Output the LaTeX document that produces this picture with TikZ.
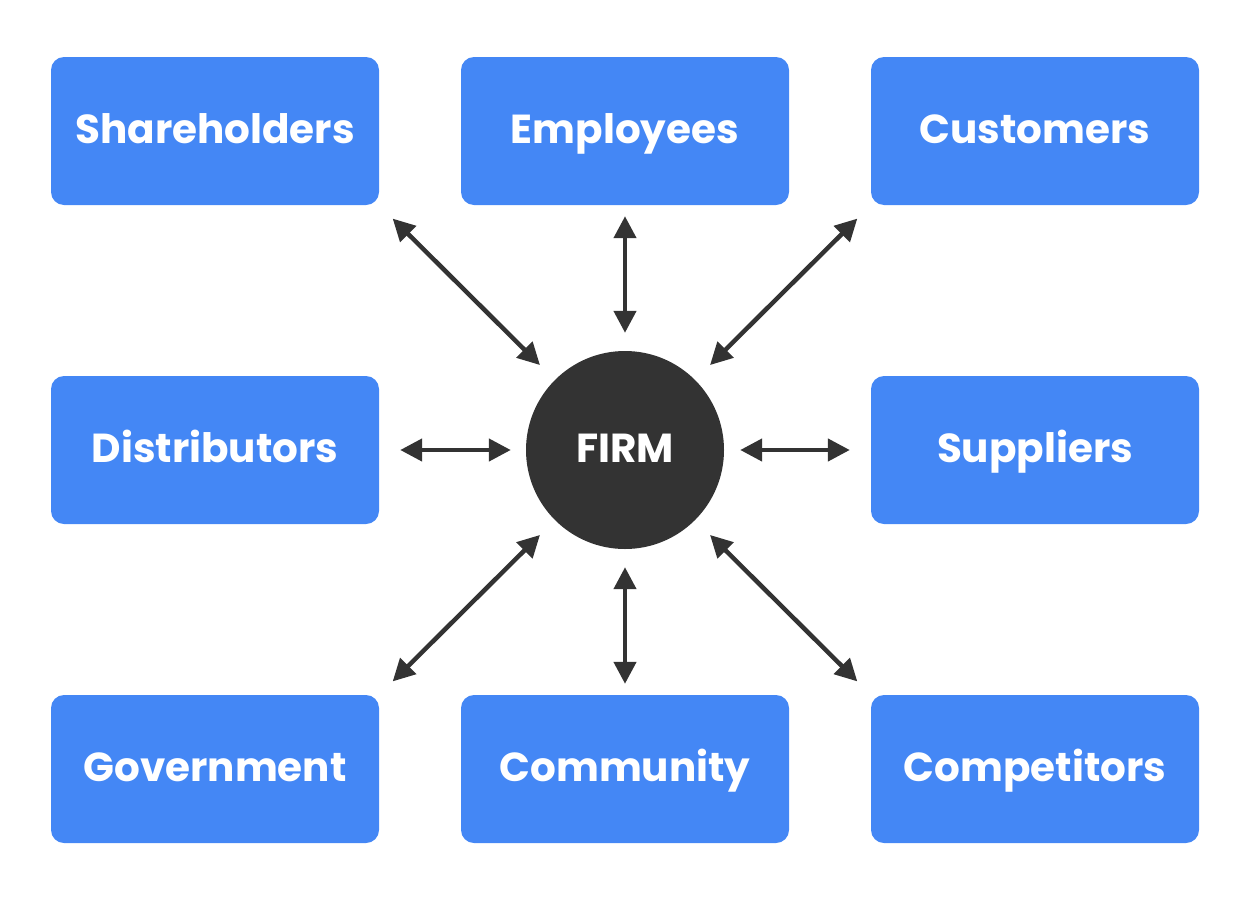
\documentclass[tikz,border=0pt]{standalone}
\usepackage{fontspec}
\setmainfont{Poppins}
\usetikzlibrary{arrows.meta}
\definecolor{boxblue}{HTML}{4487F5}
\definecolor{dark}{HTML}{333333}
\begin{document}
\begin{tikzpicture}[x=1pt,y=-1pt,
  lbl/.style={text=white,font=\fontsize{40.5}{42}\selectfont\bfseries,text height=31pt,text depth=6pt},
  box/.style={lbl,fill=boxblue,rounded corners=13pt,minimum width=328pt,minimum height=148pt,inner sep=0pt},
  link/.style={dark,line width=4.5pt,{Triangle[length=22pt,width=22pt]}-{Triangle[length=22pt,width=22pt]}}]
\useasboundingbox (0,0) rectangle (1250,900);
\node[box] (sh) at (215,131) {Shareholders};
\node[box] (em) at (625,131) {Employees};
\node[box] (cu) at (1035,131) {Customers};
\node[box] (di) at (215,450) {Distributors};
\node[box] (su) at (1035,450) {Suppliers};
\node[box] (go) at (215,769) {Government};
\node[box] (co) at (625,769) {Community};
\node[box] (cp) at (1035,769) {Competitors};
\node[lbl,circle,fill=dark,minimum size=198pt,inner sep=0pt] (f) at (625,450) {FIRM};
\draw[link,shorten <=19pt,shorten >=21pt] (sh.south east) -- (f.135);
\draw[link,shorten <=19pt,shorten >=21pt] (cu.south west) -- (f.45);
\draw[link,shorten <=19pt,shorten >=21pt] (go.north east) -- (f.225);
\draw[link,shorten <=19pt,shorten >=21pt] (cp.north west) -- (f.315);
\draw[link,shorten <=11pt,shorten >=18pt] (em.south) -- (f.north);
\draw[link,shorten <=11pt,shorten >=18pt] (co.north) -- (f.south);
\draw[link,shorten <=21pt,shorten >=15pt] (di.east) -- (f.west);
\draw[link,shorten <=21pt,shorten >=16pt] (su.west) -- (f.east);
\end{tikzpicture}
\end{document}
